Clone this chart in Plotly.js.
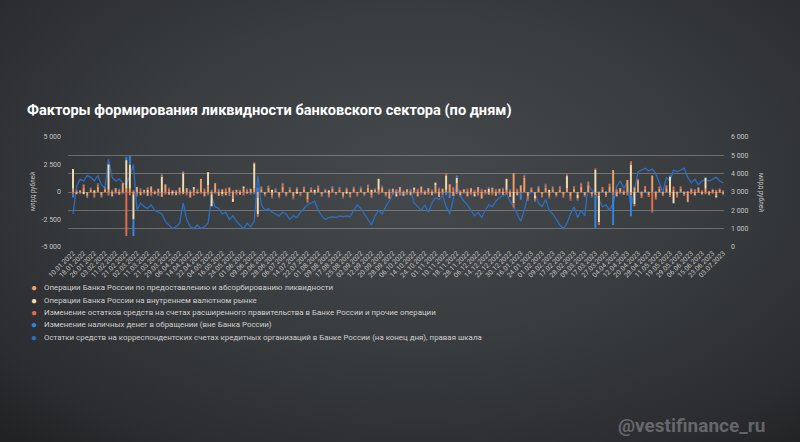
<!DOCTYPE html>
<html><head><meta charset="utf-8">
<script src="https://cdn.plot.ly/plotly-3.0.1.min.js"></script>
<style>
html,body{margin:0;padding:0;width:800px;height:442px;overflow:hidden;}
body{background: radial-gradient(ellipse 75% 80% at 52% 40%, #46494c 0%, #3a3d40 45%, #2a2c2f 85%, #202224 100%);}
#chart{width:800px;height:442px;}
</style></head><body><div id="chart"></div>
<script>
const tickLabels = ['10.01.2022','18.01.2022','26.01.2022','03.02.2022','11.02.2022','21.02.2022','02.03.2022','11.03.2022','21.03.2022','29.03.2022','06.04.2022','14.04.2022','22.04.2022','04.05.2022','16.05.2022','24.05.2022','01.06.2022','09.06.2022','20.06.2022','28.06.2022','06.07.2022','14.07.2022','22.07.2022','01.08.2022','09.08.2022','17.08.2022','25.08.2022','02.09.2022','12.09.2022','20.09.2022','28.09.2022','06.10.2022','14.10.2022','24.10.2022','01.11.2022','10.11.2022','18.11.2022','28.11.2022','06.12.2022','14.12.2022','22.12.2022','30.12.2022','16.01.2023','24.01.2023','01.02.2023','09.02.2023','17.02.2023','28.02.2023','09.03.2023','17.03.2023','27.03.2023','04.04.2023','12.04.2023','20.04.2023','28.04.2023','11.05.2023','19.05.2023','29.05.2023','06.06.2023','15.06.2023','23.06.2023','03.07.2023'];

const seriesNames = [
 'Операции Банка России по предоставлению и абсорбированию ликвидности',
 'Операции Банка России на внутреннем валютном рынке',
 'Изменение остатков средств на счетах расширенного правительства в Банке России и прочие операции',
 'Изменение наличных денег в обращении (вне Банка России)',
 'Остатки средств на корреспондентских счетах кредитных организаций в Банке России (на конец дня), правая шкала'
];

const liquidityOps = [
 300,-200,150,400,-350,200,-150,500,-300,250,
 200,-400,350,-250,800,300,300,-200,450,-300,
 200,-350,500,-200,300,-450,700,-250,150,-300,
 400,-200,350,-500,250,-150,1200,-400,600,-200,
 800,-350,250,-300,400,-600,200,-250,350,-150,
 300,300,-500,250,-200,400,-300,150,-350,500,
 -250,200,-400,300,-150,250,-700,200,-100,350,
 -200,150,-250,300,-150,200,-350,250,-200,300,
 -150,250,-200,400,-300,200,200,350,-250,-600,
 300,-200,450,-350,250,-300,200,-400,500,-250,
 350,-300,600,-450,300,200,700,-350,800,-300,
 250,-400,350,-200,450,-600,200,-250,400,-350,
 300,-250,200,-450,1700,-300,600,1300,-400,250,
 -300,350,-200,400,-350,250,-300,200,-250,350,
 -400,300,-250,500,-300,600,-200,-300,-350,250,
 -300,500,2000,-400,350,-250,1100,-300,400,1000,
 -350,250,-300,1500,-450,300,-250,350,-300,200,
 -250,300,-200,-900,250,-300,400,-200,300,-250,
 200,-300,250,-200];

const fxOps = [
 1800,0,0,-200,0,0,150,0,0,0,
 2300,0,0,0,0,2600,2200,-2300,0,0,
 0,200,0,0,0,1400,0,0,-150,0,
 0,1700,0,0,200,0,0,0,1200,-1100,
 0,0,-200,0,0,-300,0,0,150,0,
 0,2300,-1500,0,0,0,200,0,0,0,
 0,0,0,-150,0,0,0,0,200,0,
 0,0,150,0,0,0,0,-150,0,0,
 0,0,0,0,200,0,1000,0,0,0,
 0,-200,0,0,0,0,200,0,0,0,
 0,0,250,0,0,1300,0,0,500,0,
 0,0,0,-200,0,0,0,300,0,0,
 0,0,1000,0,-1000,0,0,0,0,0,
 -300,0,0,0,200,0,0,0,0,1100,
 0,0,-300,0,0,0,0,2000,-2400,0,
 0,0,0,0,0,0,0,2500,-1100,0,
 0,0,0,0,0,0,0,0,1400,-1000,
 0,0,0,0,0,0,0,0,1000,0,
 0,-200,0,0];

const govOps = [
 -200,100,-150,250,-100,150,-300,200,-150,100,
 -250,150,-100,200,-150,-4000,-300,150,-200,250,
 -150,200,-300,100,-250,150,-200,300,-150,100,
 -200,150,-250,100,-300,200,-150,250,-200,150,
 -100,200,-150,300,-250,100,-200,150,-300,200,
 -150,100,-250,200,-100,150,-200,100,-150,250,
 -100,150,-200,100,-150,200,-250,150,-100,200,
 -150,100,-200,150,-100,200,-150,100,-250,150,
 -200,150,-100,250,-150,100,-200,150,-100,200,
 -150,200,-250,100,-200,150,-100,250,-150,100,
 -200,150,-100,300,-250,200,-150,400,-200,150,
 -100,250,-200,150,-300,200,-150,100,-250,200,
 -150,300,-200,150,-400,250,-100,200,-300,150,
 -200,100,-250,300,-150,200,-100,250,-200,150,
 -300,200,-150,250,-100,300,-200,150,-250,200,
 -150,250,-300,200,-100,150,-250,300,-200,150,
 -200,300,-150,-1800,-250,200,-100,250,-150,300,
 -250,200,-150,100,-200,250,-100,150,-200,100,
 -150,200,-100,150];

const cashChange = [
 -300,100,-50,80,-100,50,-80,100,-60,120,
 -100,60,-80,100,-50,300,800,-1500,-200,100,
 -80,60,-100,50,-120,80,-60,100,-50,80,
 -100,50,-80,120,-60,100,-50,80,-100,60,
 -80,100,-60,50,-120,80,-100,60,-50,100,
 -80,-200,400,60,-100,50,-80,100,-60,80,
 -50,100,-80,60,-100,50,-60,80,-100,60,
 -80,50,-60,100,-50,80,-100,60,-80,50,
 -60,100,-80,50,-100,60,-50,80,-60,100,
 -80,60,-100,50,-80,100,-60,50,-100,80,
 -60,100,-80,120,-50,-300,-400,80,200,-100,
 -80,60,-100,50,-60,100,-80,60,-50,100,
 -100,80,-60,100,-80,50,-600,80,-100,60,
 -80,100,-60,50,-100,80,-60,100,-80,50,
 -100,60,-80,100,-60,80,-100,-3000,60,-80,
 100,-60,-2700,80,-100,60,-80,-1900,100,-60,
 80,-100,60,-80,100,-50,80,-60,100,-80,
 60,-100,80,-50,100,-80,60,-100,50,-80,
 100,-60,80,-100];

const corrBalances = [
 1800,3300,3700,3600,3900,3800,3600,3900,3400,3200,
 4800,3800,3600,3700,3500,3400,3900,4500,2000,2400,
 2200,2100,2300,2000,1900,1800,1400,1200,1000,1100,
 1300,2400,1500,1100,1000,1200,1000,1100,1300,2700,
 2200,2100,1800,1900,1500,1700,1400,1200,1000,1300,
 1100,1400,3900,2300,2000,2100,1900,1800,1700,1900,
 1800,1500,1700,1600,1900,2100,2300,2400,2500,2000,
 1700,1500,1600,1650,1600,1700,1650,1700,1650,2000,
 2300,2100,1800,1500,1200,1700,2000,1800,2200,2500,
 2900,3100,3000,2800,2900,3100,2400,2200,2000,2300,
 1900,2400,2700,2600,2800,2200,1800,2600,3400,2800,
 2500,2300,2000,1700,1900,1600,2000,2300,2200,2500,
 2700,2800,2900,2500,2200,1800,1400,2000,2800,3000,
 2900,2400,2200,2600,2000,1800,1500,1200,1000,1300,
 1800,2200,1600,2000,1700,3400,3100,2900,2600,2200,
 2300,2000,2400,3300,3600,3200,3500,2200,3000,4100,
 4200,4300,4150,4250,4000,3500,3000,3800,3600,4200,
 4100,4200,4300,3800,3500,3700,3400,3600,3700,3600,
 3700,3800,3600,3500];

const leftTicks = [-5000,-2500,0,2500,5000];
const leftTickText = ['-5 000','-2 500','0','2 500','5 000'];
const rightTicks = [0,1000,2000,3000,4000,5000,6000];
const rightTickText = ['0','1 000','2 000','3 000','4 000','5 000','6 000'];
const colors = ['#f0a066','#f3ddb0','#e56c4a','#3186e0','#2a6fc2'];

const dayIndex = corrBalances.map((_, i) => i);
const tickPositions = tickLabels.map((_, i) => i * 3);

function bar(vals, k){
  return {type:'bar', x:dayIndex, y:vals, name:seriesNames[k], xaxis:'x', yaxis:'y2',
    marker:{color:colors[k], line:{width:0}}, hoverinfo:'skip'};
}
const traces = [
  {type:'scatter', mode:'lines', x:dayIndex, y:corrBalances, name:seriesNames[4], yaxis:'y',
   line:{color:colors[4], width:1.3}},
  bar(liquidityOps,0), bar(fxOps,1), bar(govOps,2), bar(cashChange,3)
];

const L = 68, R = 724, T = 137, B = 247;
const px = x => (x - L) / (R - L);
const py = y => (B - y) / (B - T);
const legendY = [287, 300, 312.5, 324.5, 337];
const annotations = [];
seriesNames.forEach((n, k) => {
  annotations.push({text:'●', xref:'paper', yref:'paper', x:px(34), y:py(legendY[k]), xanchor:'center', yanchor:'middle',
    showarrow:false, font:{size:10, color:colors[k]}});
  annotations.push({text:n, xref:'paper', yref:'paper', x:px(42), y:py(legendY[k]), xanchor:'left', yanchor:'middle',
    showarrow:false, font:{size:7.9, color:'#cfcfcf', family:'Roboto, sans-serif'}});
});
annotations.push({text:'млрд рублей', xref:'paper', yref:'paper', x:px(33), y:py(192), textangle:-90,
  showarrow:false, xanchor:'center', yanchor:'middle', font:{size:6.5, color:'#c4c4c4'}});
annotations.push({text:'млрд рублей', xref:'paper', yref:'paper', x:px(761), y:py(192), textangle:90,
  showarrow:false, xanchor:'center', yanchor:'middle', font:{size:6.5, color:'#c4c4c4'}});
annotations.push({text:'<b>@vestifinance_ru</b>', xref:'paper', yref:'paper', x:px(691), y:py(425),
  showarrow:false, xanchor:'center', yanchor:'middle', font:{size:19, color:'rgba(160,163,168,0.5)', family:'Roboto, sans-serif'}});

const layout = {
  width:800, height:442,
  paper_bgcolor:'rgba(0,0,0,0)', plot_bgcolor:'rgba(0,0,0,0)',
  margin:{l:L, r:800-R, t:T, b:442-B, pad:0},
  barmode:'relative', bargap:0.45,
  showlegend:false,
  font:{family:'Roboto, sans-serif', color:'#cfcfcf'},
  title:{text:'<b>Факторы формирования ликвидности банковского сектора (по дням)</b>',
    x:27/800, xref:'container', xanchor:'left', y:1-110/442, yref:'container', yanchor:'middle',
    font:{size:14.6, color:'#ffffff', family:'Roboto, sans-serif'}},
  xaxis:{range:[-1.41, 183.2], tickmode:'array', tickvals:tickPositions, ticktext:tickLabels, tickangle:-45,
    tickfont:{size:6.8, color:'#c4c4c4'}, showgrid:false, zeroline:false, showline:false, ticks:'', fixedrange:true},
  yaxis:{side:'right', range:[0,6000], tickmode:'array', tickvals:rightTicks, ticktext:rightTickText,
    showgrid:true, gridcolor:'rgba(215,215,215,0.33)', gridwidth:1, zeroline:false, showline:false, ticks:'',
    tickfont:{size:7, color:'#c4c4c4'}, ticklabelstandoff:6},
  yaxis2:{overlaying:'y', side:'left', range:[-5000,5000], tickmode:'array', tickvals:leftTicks, ticktext:leftTickText,
    showgrid:false, zeroline:false, showline:false, ticks:'', tickfont:{size:7, color:'#c4c4c4'}, ticklabelstandoff:6},
  annotations:annotations
};
Plotly.newPlot('chart', traces, layout, {staticPlot:true, displayModeBar:false});
</script></body></html>
